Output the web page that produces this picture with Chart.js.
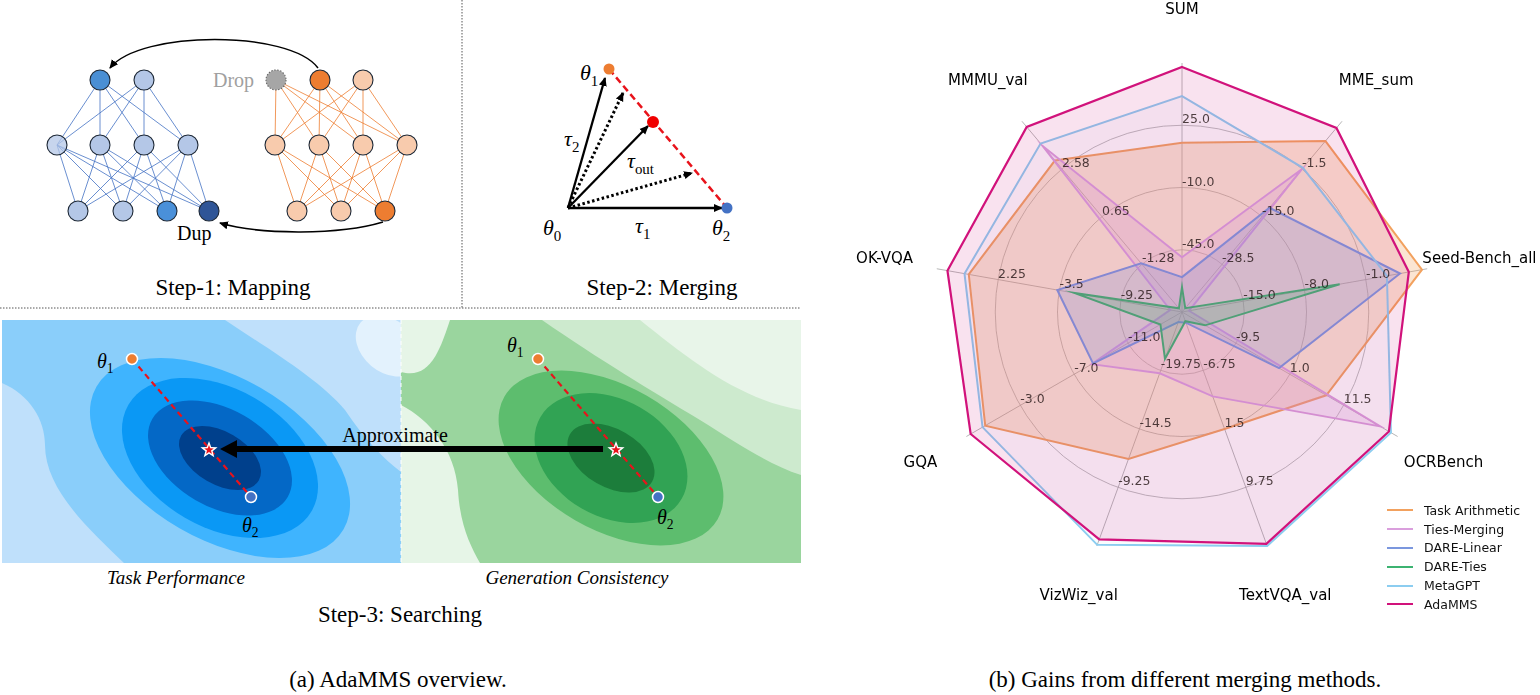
<!DOCTYPE html>
<html>
<head>
<meta charset="utf-8">
<script src="https://cdn.jsdelivr.net/npm/chart.js@4.4.1/dist/chart.umd.min.js"></script>
<style>
body{margin:0;background:#fff;width:1540px;height:695px;overflow:hidden;position:relative;font-family:"Liberation Serif",serif;}
#left{position:absolute;left:0;top:0;}
#radar{position:absolute;left:840px;top:0;}
.cap{position:absolute;transform:translate(-50%,-50%);white-space:nowrap;font-size:23px;color:#000;}
#legend{position:absolute;left:1387px;top:501px;font:12.5px "DejaVu Sans",sans-serif;color:#111;}
#legend div{height:18.8px;display:flex;align-items:center;}
#legend span.ln{display:inline-block;width:26px;height:2px;margin-right:11px;}
</style>
</head>
<body>

<svg id="left" width="840" height="695" xmlns="http://www.w3.org/2000/svg"></svg>
<canvas id="radar" width="700" height="640"></canvas>
<div id="legend"></div>

<div class="cap" style="left:233px;top:288px">Step-1: Mapping</div>
<div class="cap" style="left:662px;top:288px">Step-2: Merging</div>
<div class="cap" style="left:176px;top:578px;font-style:italic;font-size:19px">Task Performance</div>
<div class="cap" style="left:577px;top:578px;font-style:italic;font-size:19px">Generation Consistency</div>
<div class="cap" style="left:400px;top:615px">Step-3: Searching</div>
<div class="cap" style="left:398px;top:680px">(a) AdaMMS overview.</div>
<div class="cap" style="left:1185px;top:680px">(b) Gains from different merging methods.</div>

<script>
// ---- radar data ----
const categories = ["SUM","MME_sum","Seed-Bench_all","OCRBench","TextVQA_val","VizWiz_val","GQA","OK-VQA","MMMU_val"];

// per-axis tick labels at the 1/4, 2/4, 3/4 rings
const tickLabels = [
  ["-45.0","-10.0","25.0"],
  ["-28.5","-15.0","-1.5"],
  ["-15.0","-8.0","-1.0"],
  ["-9.5","1.0","11.5"],
  ["-6.75","1.5","9.75"],
  ["-19.75","-14.5","-9.25"],
  ["-11.0","-7.0","-3.0"],
  ["-9.25","-3.5","2.25"],
  ["-1.28","0.65","2.58"]
];

const seriesNames = ["Task Arithmetic","Ties-Merging","DARE-Linear","DARE-Ties","MetaGPT","AdaMMS"];
const taskArithmetic = [15.2, 6.4, 5.4, 8.1, 1.5, -11.8, -0.4, 5.0, 2.92];
const tiesMerging    = [-49.2, -1.5, -21.2, 18.6, -3.1, -19.5, -8.3, -13.9, 3.51];
const dareLinear     = [-60.4, -12.5, 2.9, -1.1, -13.5, -24.1, -8.4, -3.3, -1.24];
const dareTies       = [-66.0, -40.9, -4.0, -15.5, -13.7, -20.8, -13.4, -4.9, -3.06];
const metaGPT        = [41.4, -1.2, 1.4, 20.7, 18.0, -4.1, -0.2, 5.4, 3.61];
const adaMMS         = [57.8, 10.1, 3.9, 20.3, 17.7, -4.6, 0.68, 7.0, 4.28];

const seriesValues = [taskArithmetic, tiesMerging, dareLinear, dareTies, metaGPT, adaMMS];
const lineColors = ["#f2a15e","#da9fdd","#7b97de","#3cb371","#8ccdf0","#d1127b"];
const fillColors = ["rgba(242,161,94,0.28)","rgba(218,159,221,0.25)","rgba(123,151,222,0.25)",
                    "rgba(60,179,113,0.25)","rgba(140,205,240,0.05)","rgba(209,18,123,0.12)"];

// each axis has its own range: one step below the first ring, one step above the last
const axisMin = tickLabels.map(t => parseFloat(t[0]) - (parseFloat(t[1]) - parseFloat(t[0])));
const axisMax = tickLabels.map(t => parseFloat(t[2]) + (parseFloat(t[1]) - parseFloat(t[0])));

function normalize(values){
  return values.map((v,i) => (v - axisMin[i]) / (axisMax[i] - axisMin[i]));
}

const axisText = {
  id:"axisText",
  afterDatasetsDraw(chart){
    const scale = chart.scales.r;
    const ctx = chart.ctx;
    ctx.save();
    ctx.font = '12.5px "DejaVu Sans"';
    ctx.fillStyle = "rgba(35,20,20,0.8)";
    ctx.textAlign = "left";
    ctx.textBaseline = "bottom";
    tickLabels.forEach((ticks,i) => {
      ticks.forEach((t,k) => {
        const p = scale.getPointPosition(i, scale.getDistanceFromCenterForValue((k+1)*0.25));
        ctx.fillText(t, p.x, p.y + 1);
      });
    });
    ctx.font = '15px "DejaVu Sans"';
    ctx.fillStyle = "#000";
    ctx.textAlign = "center";
    ctx.textBaseline = "middle";
    categories.forEach((c,i) => {
      const p = scale.getPointPosition(i, scale.drawingArea * 1.213);
      ctx.fillText(c, p.x, p.y);
    });
    ctx.restore();
  }
};

new Chart(document.getElementById("radar"), {
  type:"radar",
  data:{
    labels:categories,
    datasets:seriesNames.map((name,i) => ({
      label:name,
      data:normalize(seriesValues[i]),
      borderColor:lineColors[i],
      backgroundColor:fillColors[i],
      borderWidth:i == 5 ? 2.2 : 2,
      pointRadius:0,
      fill:true,
      order:seriesNames.length - i
    }))
  },
  options:{
    responsive:false,
    animation:false,
    layout:{padding:{left:93,top:63,right:109,bottom:79}},
    plugins:{legend:{display:false},tooltip:{enabled:false}},
    scales:{
      r:{
        min:0,
        max:1,
        ticks:{display:false,stepSize:0.25},
        grid:{circular:true,lineWidth:0.8,color:c => c.tick.value >= 1 ? "rgba(0,0,0,0)" : "#ababab"},
        angleLines:{color:"#a3a3a3",lineWidth:0.8},
        pointLabels:{display:false}
      }
    }
  },
  plugins:[axisText]
});

const legend = document.getElementById("legend");
seriesNames.forEach((name,i) => {
  const row = document.createElement("div");
  row.innerHTML = '<span class="ln" style="background:'+lineColors[i]+'"></span>'+name;
  legend.appendChild(row);
});

// ---- left overview diagram ----
const NS = "http://www.w3.org/2000/svg";
const svg = document.getElementById("left");

function el(tag, attrs, parent){
  const e = document.createElementNS(NS, tag);
  for (const k in attrs) e.setAttribute(k, attrs[k]);
  (parent || svg).appendChild(e);
  return e;
}

const defs = el("defs", {});
const mk = el("marker", {id:"ah", markerWidth:"10", markerHeight:"10", refX:"8", refY:"5", orient:"auto", markerUnits:"userSpaceOnUse"}, defs);
el("path", {d:"M0,1 L9,5 L0,9 Z", fill:"#000"}, mk);
const cpB = el("clipPath", {id:"cpB"}, defs);
el("rect", {x:2, y:320, width:399, height:243}, cpB);
const cpG = el("clipPath", {id:"cpG"}, defs);
el("rect", {x:401, y:320, width:400, height:243}, cpG);

// separators
el("line", {x1:0, y1:308, x2:800, y2:308, stroke:"#555", "stroke-width":1, "stroke-dasharray":"1.5,1.5"});
el("line", {x1:462, y1:0, x2:462, y2:308, stroke:"#555", "stroke-width":1, "stroke-dasharray":"1.5,1.5"});

// step 1: two networks
const blueTop = [[100,80,"#4a8fd4"],[144,80,"#b4c7e7"]];
const blueMid = [[57,145,"#b4c7e7"],[100,145,"#b4c7e7"],[144,145,"#b4c7e7"],[188,145,"#b4c7e7"]];
const blueBot = [[78,211,"#b4c7e7"],[123,211,"#b4c7e7"],[167,211,"#4a90d9"],[209,211,"#2f5597"]];
const orTop = [[276,80,"#a6a6a6"],[320,80,"#ed7d31"],[363,80,"#f8cbad"]];
const orMid = [[275,145,"#f8cbad"],[319,145,"#f8cbad"],[363,145,"#f8cbad"],[407,145,"#f8cbad"]];
const orBot = [[297,211,"#f8cbad"],[341,211,"#f8cbad"],[385,211,"#ed7d31"]];

function edges(a, b, color){
  a.forEach(p => b.forEach(q => el("line", {x1:p[0], y1:p[1], x2:q[0], y2:q[1], stroke:color, "stroke-width":0.8})));
}
edges(blueTop, blueMid, "#4472c4");
edges(blueMid, blueBot, "#4472c4");
edges(orTop, orMid, "#ed7d31");
edges(orMid, orBot, "#ed7d31");

[blueTop, blueMid, blueBot, orTop, orMid, orBot].forEach((row, r) => row.forEach((n, j) => {
  const drop = (r == 3 && j == 0);
  el("circle", {cx:n[0], cy:n[1], r:10, fill:n[2], "fill-opacity":(r == 1 && j == 0) ? 0.75 : 1,
    stroke:drop ? "#666" : "#1c2735", "stroke-width":1.1, "stroke-dasharray":drop ? "1.5,1.5" : "none"});
}));

el("path", {d:"M318,68 C290,30 140,30 110,68", fill:"none", stroke:"#000", "stroke-width":1.5, "marker-end":"url(#ah)"});
el("path", {d:"M383,222 C340,235 260,235 220,223", fill:"none", stroke:"#000", "stroke-width":1.5, "marker-end":"url(#ah)"});

function txt(x, y, s, attrs){
  const t = el("text", Object.assign({x:x, y:y, "font-family":"Liberation Serif", "font-size":20}, attrs || {}));
  t.textContent = s;
  return t;
}
txt(213, 87, "Drop", {fill:"#a0a0a0"});
txt(177, 240, "Dup", {fill:"#000"});

// step 2: merging vectors
el("line", {x1:609, y1:69, x2:727, y2:208, stroke:"#e8131b", "stroke-width":2.5, "stroke-dasharray":"7,4"});
function arrow(x2, y2, dotted){
  el("line", {x1:568, y1:208, x2:x2, y2:y2, stroke:"#000", "stroke-width":dotted ? 3 : 2.3,
    "stroke-dasharray":dotted ? "2.5,2.5" : "none", "marker-end":"url(#ah)"});
}
arrow(605, 78, false);
arrow(722, 208, false);
arrow(648, 126, false);
arrow(623, 93, true);
arrow(692, 173, true);
el("circle", {cx:609, cy:69, r:5.5, fill:"#ed7d31"});
el("circle", {cx:727, cy:208, r:5.5, fill:"#4472c4"});
el("circle", {cx:653, cy:122, r:6, fill:"#f00000"});

function sym(x, y, base, sub, size){
  const t = el("text", {x:x, y:y, "font-family":"Liberation Serif", "font-style":"italic", "font-size":size});
  t.textContent = base;
  const s = el("tspan", {dy:size * 0.25, "font-size":size * 0.68, "font-style":"normal"}, t);
  s.textContent = sub;
}
sym(580, 80, "\u03b8", "1", 22);
sym(564, 146, "\u03c4", "2", 22);
sym(627, 168, "\u03c4", "out", 22);
sym(543, 235, "\u03b8", "0", 22);
sym(635, 233, "\u03c4", "1", 22);
sym(712, 235, "\u03b8", "2", 22);

// step 3: contour panels
const gB = el("g", {"clip-path":"url(#cpB)"});
el("rect", {x:2, y:320, width:399, height:243, fill:"#8acefa"}, gB);
el("path", {d:"M2,383 C30,395 45,420 45,445 C45,490 90,530 124,563 L2,563 Z", fill:"#bfe0fb"}, gB);
el("path", {d:"M225,320 C270,350 320,380 345,410 C365,440 385,460 401,472 L401,320 Z", fill:"#bfe0fb"}, gB);
el("ellipse", {cx:388, cy:346, rx:36, ry:26, fill:"#e3f2fd", transform:"rotate(40 388 346)"}, gB);
[[142.7,81,"#3fb4fe"],[105.9,69.3,"#0a98f5"],[78.2,48.7,"#0468c6"],[44.8,26.4,"#00408c"]].forEach(e => {
  el("ellipse", {cx:220, cy:458, rx:e[0], ry:e[1], fill:e[2], transform:"rotate(30 220 458)"}, gB);
});

const gG = el("g", {"clip-path":"url(#cpG)"});
el("rect", {x:401, y:320, width:400, height:243, fill:"#9ad59e"}, gG);
el("path", {d:"M401,405 C430,420 455,450 458,490 C460,525 470,545 480,563 L401,563 Z", fill:"#e6f5e7"}, gG);
el("path", {d:"M401,320 L401,372 C430,380 440,350 450,320 Z", fill:"#e6f5e7"}, gG);
el("path", {d:"M542,320 C600,360 650,390 700,420 C740,445 770,465 801,475 L801,320 Z", fill:"#cdeace"}, gG);
el("path", {d:"M640,320 C690,360 740,400 801,410 L801,320 Z", fill:"#e8f5e9"}, gG);
[[123,71.8,"#5dbd6e"],[81.6,58.4,"#31a354"],[47.4,29,"#1c7d3b"]].forEach(e => {
  el("ellipse", {cx:611, cy:458, rx:e[0], ry:e[1], fill:e[2], transform:"rotate(30 611 458)"}, gG);
});
el("line", {x1:401, y1:320, x2:401, y2:563, stroke:"#fff", "stroke-width":1, "stroke-dasharray":"4,3"});

function star(cx, cy, ro, ri, fill){
  let pts = [];
  for (let k = 0; k < 10; k++){
    const a = -Math.PI / 2 + k * Math.PI / 5;
    const rr = k % 2 ? ri : ro;
    pts.push((cx + rr * Math.cos(a)).toFixed(1) + "," + (cy + rr * Math.sin(a)).toFixed(1));
  }
  el("polygon", {points:pts.join(" "), fill:fill});
}
function searchPanel(x1, y1, x2, y2, sx, sy){
  el("line", {x1:x1, y1:y1, x2:x2, y2:y2, stroke:"#e8131b", "stroke-width":2.2, "stroke-dasharray":"6,4"});
  el("circle", {cx:x1, cy:y1, r:5.5, fill:"#ed7d31", stroke:"#fff", "stroke-width":1.5});
  el("circle", {cx:x2, cy:y2, r:5.5, fill:"#4472c4", stroke:"#fff", "stroke-width":1.5});
  star(sx, sy, 9, 3.8, "#fff");
  star(sx, sy, 5, 2.1, "#e8131b");
}
searchPanel(132, 359, 251, 497, 209, 450);
searchPanel(538, 359, 658, 497, 616, 450);

el("line", {x1:603, y1:449, x2:234, y2:449, stroke:"#000", "stroke-width":6});
el("path", {d:"M220,449 L237,440 L237,458 Z", fill:"#000"});
txt(395, 442, "Approximate", {"text-anchor":"middle", "font-size":20});

sym(97, 368, "\u03b8", "1", 20);
sym(242, 532, "\u03b8", "2", 20);
sym(507, 352, "\u03b8", "1", 20);
sym(657, 524, "\u03b8", "2", 20);
</script>
</body>
</html>
